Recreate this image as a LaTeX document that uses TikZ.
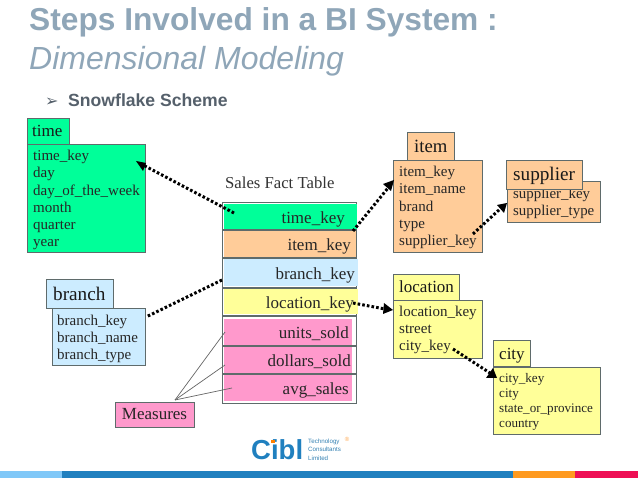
\documentclass[tikz,border=0pt]{standalone}
\usepackage{fontspec}
\setmainfont{Liberation Serif}
\setsansfont{Liberation Sans}
\usetikzlibrary{arrows.meta}
\definecolor{grn}{HTML}{00FF99}
\definecolor{org}{HTML}{FFCC99}
\definecolor{blu}{HTML}{CCECFF}
\definecolor{yel}{HTML}{FFFF99}
\definecolor{pnk}{HTML}{FF99CC}
\definecolor{edge}{HTML}{5F6B6B}
\definecolor{ttl}{HTML}{8FA6B8}
\definecolor{sub}{HTML}{55606B}
\definecolor{cblue}{HTML}{2080BF}
\definecolor{barA}{HTML}{80C8F8}
\definecolor{barB}{HTML}{FF9A1F}
\definecolor{barC}{HTML}{EE0F55}
\tikzset{
 x=1pt,y=-1pt,
 box/.style={draw=edge,line width=0.9pt,inner sep=0pt,outer sep=0pt},
 hd/.style={inner sep=0pt,anchor=base west,font=\fontsize{17}{18}\selectfont,text=black!90},
 hdb/.style={inner sep=0pt,anchor=base west,font=\fontsize{19.2}{20}\selectfont,text=black!90},
 lst/.style={anchor=north west,align=left,inner sep=0pt,font=\fontsize{15}{17.2}\selectfont,text=black!85},
 fld/.style={anchor=base east,inner sep=0pt,font=\fontsize{17}{18}\selectfont,text=black!85},
 ddot/.style={line width=3pt,dash pattern=on 2.6pt off 2.1pt,black},
 thinl/.style={draw=black!60,line width=0.7pt},
 title/.style={anchor=base west,inner sep=0pt,text=ttl},
 lgo/.style={anchor=base west,inner sep=0pt,font=\sffamily\fontsize{6.2}{7}\selectfont,text=cblue!80!gray},
}
\begin{document}
\begin{tikzpicture}
\useasboundingbox (0,0) rectangle (638,478);
% titles
\node[title,font=\sffamily\bfseries\fontsize{31.7}{33}\selectfont] (t1) at (29,31) {Steps Involved in a BI System :};
\node[title,font=\sffamily\itshape\fontsize{32}{33}\selectfont] (t2) at (29,70) {Dimensional Modeling};
\node[anchor=base west,inner sep=0pt,font=\fontsize{16}{17}\selectfont,text=sub] (bul) at (45,107) {\fontspec{DejaVu Sans}\symbol{"27A2}};
\node[anchor=base west,inner sep=0pt,font=\sffamily\bfseries\fontsize{17.6}{18}\selectfont,text=sub] (sn) at (68,107) {Snowflake Scheme};
% time
\node[box,fill=grn,minimum width=42pt,minimum height=26pt,anchor=north west] (timeT) at (27,118) {};
\node[hd] at (32,137) {time};
\node[box,fill=grn,minimum width=118pt,minimum height=108pt,anchor=north west] (timeB) at (27,144) {};
\node[lst] at (33,150) {time\_key\\day\\day\_of\_the\_week\\month\\quarter\\year};
% branch
\node[box,fill=blu,minimum width=67pt,minimum height=29pt,anchor=north west] (branchT) at (46,279) {};
\node[hdb] at (53,301) {branch};
\node[box,fill=blu,minimum width=93pt,minimum height=57pt,anchor=north west] (branchB) at (52,308) {};
\node[lst] at (57,314.5) {branch\_key\\branch\_name\\branch\_type};
% fact table
\node[anchor=base west,inner sep=0pt,font=\fontsize{16.7}{17}\selectfont,text=black!80] (sft) at (225,189) {Sales Fact Table};
\node[box,minimum width=134pt,minimum height=201pt,anchor=north west] (fact) at (222,202) {};
\foreach \n/\c/\yy/\hh/\ww in {a/grn/204/25/135,b/org/231/26/134,c/blu/259/27/136,d/yel/289/25/136,e/pnk/319/26/130,f/pnk/347/26/130,g/pnk/375/26/130}
  \fill[\c] (224,\yy) rectangle ++(\ww-2,\hh);
\foreach \yy in {230,258,288,316,346,374}
  \draw[edge,line width=1.1pt] (222,\yy) -- (356,\yy);
\node[fld] (f1) at (345,224) {time\_key};
\node[fld] (f2) at (351,251) {item\_key};
\node[fld] (f3) at (355,280) {branch\_key};
\node[fld] (f4) at (354,309) {location\_key};
\node[fld] (f5) at (349,339) {units\_sold};
\node[fld] (f6) at (351,367) {dollars\_sold};
\node[fld] (f7) at (349,395) {avg\_sales};
% item
\node[box,fill=org,minimum width=47pt,minimum height=29pt,anchor=north west] (itemT) at (407,132) {};
\node[hd,font=\fontsize{18.7}{19}\selectfont] at (414,153) {item};
\node[box,fill=org,minimum width=89pt,minimum height=92pt,anchor=north west] (itemB) at (393,160) {};
\node[lst] at (399,166) {item\_key\\item\_name\\brand\\type\\supplier\_key};
% supplier
\node[box,fill=org,minimum width=93pt,minimum height=41pt,anchor=north west] (supB) at (507,181) {};
\node[lst,font=\fontsize{14.9}{17.5}\selectfont] at (513,187.5) {supplier\_key\\supplier\_type};
\node[box,fill=org,minimum width=76pt,minimum height=29pt,anchor=north west] (supT) at (506,160) {};
\node[hdb] at (513,181) {supplier};
% location
\node[box,fill=yel,minimum width=66pt,minimum height=26pt,anchor=north west] (locT) at (393,274) {};
\node[hd] at (399,293) {location};
\node[box,fill=yel,minimum width=89pt,minimum height=58pt,anchor=north west] (locB) at (393,300) {};
\node[lst] at (399,305.5) {location\_key\\street\\city\_key};
% city
\node[box,fill=yel,minimum width=37pt,minimum height=26pt,anchor=north west] (cityT) at (493,340) {};
\node[hd] at (499,360) {city};
\node[box,fill=yel,minimum width=107pt,minimum height=67pt,anchor=north west] (cityB) at (493,367) {};
\node[lst,font=\fontsize{13.1}{14.9}\selectfont] at (499,373.5) {city\_key\\city\\state\_or\_province\\country};
% measures
\node[box,fill=pnk,minimum width=79pt,minimum height=25pt,anchor=north west,font=\fontsize{17}{18}\selectfont,text=black!85] (meas) at (115,402) {Measures};
% thin lines
\coordinate (mh) at (175,400);
\coordinate (u) at (225,332);
\coordinate (v) at (225,365);
\coordinate (w) at (232,388);
\draw[thinl] (mh) -- (u);
\draw[thinl] (mh) -- (v);
\draw[thinl] (mh) -- (w);
% dotted connectors
\coordinate (a1) at (234,213);
\coordinate (a2) at (136,161);
\draw[ddot] (a1) -- (143,165);
\fill (a2) -- (146,163) -- (143,171) -- cycle;
\coordinate (b1) at (353,231);
\coordinate (b2) at (394,180);
\draw[ddot] (b1) -- (388,188);
\fill (b2) -- (391,191) -- (383,184) -- cycle;
\coordinate (c1) at (222,280);
\coordinate (c2) at (146,317);
\draw[ddot] (c1) -- (c2);
\coordinate (d1) at (353,303);
\coordinate (d2) at (393,310);
\draw[ddot] (d1) -- (385,309);
\fill (d2) -- (384,303) -- (383,314) -- cycle;
\coordinate (e1) at (473,234);
\coordinate (e2) at (507,203);
\draw[ddot] (e1) -- (500,209);
\fill (e2) -- (504,213) -- (497,205) -- cycle;
\coordinate (g1) at (453,349);
\coordinate (g2) at (497,378);
\draw[ddot] (g1) -- (490,373);
\fill (g2) -- (486,378) -- (493,368) -- cycle;
% logo
\node[anchor=base west,inner sep=0pt,font=\sffamily\bfseries\fontsize{27.5}{28}\selectfont,text=cblue] (logo) at (251,460) {Cibl};
\fill[orange] (270.5,440) rectangle (275,443.5);
\node[lgo] (l1) at (308,443.5) {Technology};
\node[lgo] (l2) at (308,452) {Consultants};
\node[lgo] (l3) at (308,460.5) {Limited};
\node[inner sep=0pt,font=\sffamily\fontsize{6}{6}\selectfont,text=orange!70] (reg) at (347,439) {®};
% bottom bar
\fill[barA] (0,471) rectangle (62,478);
\fill[cblue] (62,471) rectangle (513,478);
\fill[barB] (513,471) rectangle (575,478);
\fill[barC] (575,471) rectangle (638,478);
\end{tikzpicture}
\end{document}
